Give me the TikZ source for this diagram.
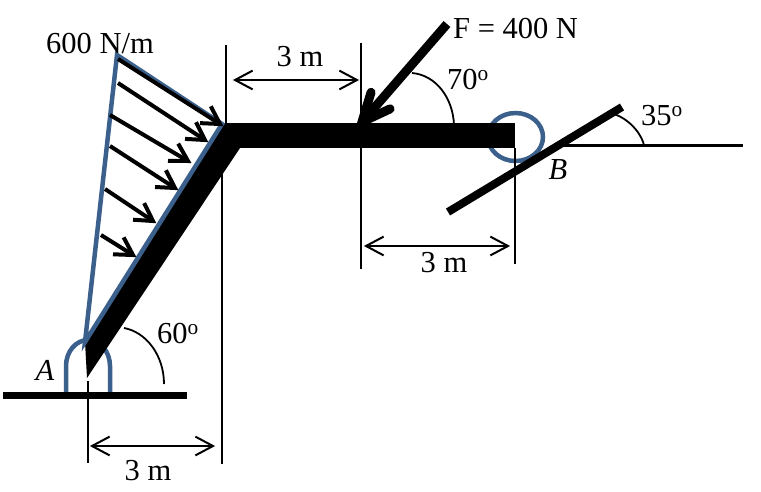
\documentclass[tikz,border=0pt]{standalone}
\usepackage{fontspec}
\setmainfont{Liberation Serif}
\usetikzlibrary{calc}
\definecolor{steelb}{RGB}{60,96,140}
% tip at #3, tail at #2, #1 = line style; #4 = barb length; #5 = half angle
\newcommand{\barbhead}[5][]{\draw[#1,line join=miter] ($(#3)!#4pt!#5:(#2)$) -- (#3) -- ($(#3)!#4pt!-#5:(#2)$);}
\tikzset{
  x=1pt,y=-1pt,
  lbl/.style={font=\fontsize{30.5}{32}\selectfont,inner sep=0pt,text=black},
  itlbl/.style={lbl,font=\fontsize{30.5}{32}\selectfont\itshape},
  dimline/.style={line width=2pt},
  guide/.style={line width=1.8pt},
  angarc/.style={line width=1.8pt},
  loadline/.style={line width=4pt},
  forceline/.style={line width=9pt},
  support/.style={line width=4.5pt,draw=steelb},
}
\begin{document}
\begin{tikzpicture}
\useasboundingbox (0,0) rectangle (761,491);
% named points
\coordinate (Top) at (117,55);
\coordinate (Elbow) at (222,124);
\coordinate (Foot) at (85,342);
\coordinate (Tip) at (87,378);
% blue supports (behind the frame)
\draw[support] (66,392) -- (66,366) arc[start angle=180,end angle=360,x radius=22,y radius=26] -- (110,392);
\draw[support] (515.5,137) ellipse[x radius=27.5,y radius=24];
% ground and incline
\draw[line width=7pt] (3,395) -- (187,395);
\draw[line width=3pt] (560,145) -- (743,145);
\draw[line width=8pt] (448,212) -- (622,107);
% frame
\fill[black] (227,123) rectangle (515,148);
\fill[black] (Foot) -- (Elbow) -- (228,123) -- (240,148) -- (Tip) -- cycle;
% distributed load
\draw[support,line join=miter] (Top) -- (Foot) -- (Elbow) -- cycle;
\foreach \ax/\ay/\bx/\by [count=\i] in {118/59/220/124,118/83/205/140,110/115/188/161,110/146/175/188,105/189/153/221,101/235/133/255}{
  \coordinate (la\i) at (\ax,\ay);
  \coordinate (lb\i) at (\bx,\by);
  \draw[loadline] (la\i) -- (lb\i);
  \barbhead[loadline]{la\i}{lb\i}{20}{30}
}
% force
\coordinate (Ftail) at (447,24);
\coordinate (Ftip) at (362,122);
\draw[forceline] (Ftail) -- ($(Ftip)!5pt!(Ftail)$);
\barbhead[forceline,line cap=round]{Ftail}{Ftip}{31}{24}
% guide lines
\draw[guide] (226,45) -- (226,124);
\draw[guide] (222,148) -- (222,464);
\draw[guide] (88,381) -- (88,463);
\draw[guide] (361,43) -- (361,123);
\draw[guide] (361,148) -- (361,269);
\draw[guide] (515,148) -- (515,264);
% dimensions
\foreach \ax/\ay/\bx/\by [count=\i] in {235/80/357/80,366/246/508/246,92/446/213/446}{
  \coordinate (da\i) at (\ax,\ay);
  \coordinate (db\i) at (\bx,\by);
  \draw[dimline] (da\i) -- (db\i);
  \barbhead[dimline]{da\i}{db\i}{20}{28}
  \barbhead[dimline]{db\i}{da\i}{20}{28}
}
% angle arcs
\draw[angarc] (412,73) .. controls (436,75) and (453,98) .. (454,125);
\draw[angarc] (610,113) .. controls (625,116) and (640,130) .. (644,145);
\draw[angarc] (124,328) .. controls (146,332) and (164,355) .. (164,384);
% labels
\node[lbl] (load) at (100,44) {600 N/m};
\node[lbl,anchor=west] (force) at (453,29) {F = 400 N};
\node[lbl] (ang70) at (468,80) {70\textsuperscript{o}};
\node[lbl] (ang35) at (662,116) {35\textsuperscript{o}};
\node[lbl] (ang60) at (178,334) {60\textsuperscript{o}};
\node[lbl] (dimA) at (300,57) {3 m};
\node[lbl] (dimB) at (444,263) {3 m};
\node[lbl] (dimC) at (148,471) {3 m};
\node[itlbl] (labA) at (45,370) {A};
\node[itlbl] (labB) at (558,170) {B};
\end{tikzpicture}
\end{document}
